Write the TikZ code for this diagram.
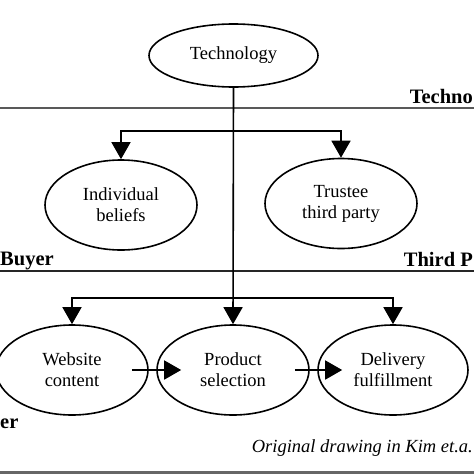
\documentclass[tikz,border=0pt]{standalone}
\usepackage{fontspec}
\setmainfont{Liberation Serif}
\usetikzlibrary{shapes.geometric,arrows.meta}
\tikzset{
  oval/.style={ellipse, draw=black, line width=1.6pt, inner sep=0pt, align=center,
    font=\fontsize{18.5}{21}\selectfont},
  conn/.style={line width=1.6pt},
  arr/.style={conn, -{Triangle[width=19pt,length=17pt]}},
  zone/.style={font=\fontsize{20.5}{24}\selectfont\bfseries, inner sep=0pt, anchor=base west},
  rule/.style={line width=1.6pt},
}
\begin{document}
\begin{tikzpicture}[x=1pt,y=-1pt]
\useasboundingbox (0,0) rectangle (474,474);
% separators
\draw[rule, draw=black!65] (0,108) -- (474,108);
\draw[rule, draw=black!85] (0,271) -- (474,271);
\fill[black!60] (0,471) rectangle (474,474);
% zone labels
\node[zone, anchor=base east] (lt) at (473,103) {Techno};
\node[zone] (lb) at (0,265) {Buyer};
\node[zone, anchor=base east] (lp) at (473,266) {Third P};
\node[zone] (ls) at (0,428) {er};
\node[font=\fontsize{18.5}{21}\selectfont\itshape, inner sep=0pt, anchor=base east] (cap) at (473,452) {Original drawing in Kim et.a.};
% nodes
\node[oval, minimum width=169pt, minimum height=63pt] (tech) at (233.5,55.5) {Technology};
\node[oval, minimum width=152pt, minimum height=90pt] (indiv) at (121,205) {Individual\\beliefs};
\node[oval, minimum width=152pt, minimum height=90pt] (trust) at (341,203.5) {Trustee\\third party};
\node[oval, minimum width=152pt, minimum height=90pt] (web) at (72,370) {Website\\content};
\node[oval, minimum width=152pt, minimum height=90pt] (prod) at (233,370) {Product\\selection};
\node[oval, minimum width=150pt, minimum height=90pt] (deliv) at (393,370) {Delivery\\fulfillment};
% connectors
\coordinate (b1) at (233,131);
\coordinate (b2) at (233,298);
\draw[arr] (tech.south) -- (prod.north);
\draw[arr] (b1) -| (indiv.north);
\draw[arr] (b1) -| (trust.north);
\draw[arr] (b2) -| (web.north);
\draw[arr] (b2) -| (deliv.north);
\draw[arr] ([xshift=-17pt]web.east) -- ([xshift=25pt]prod.west);
\draw[arr] ([xshift=-15pt]prod.east) -- ([xshift=25pt]deliv.west);
\end{tikzpicture}
\end{document}
